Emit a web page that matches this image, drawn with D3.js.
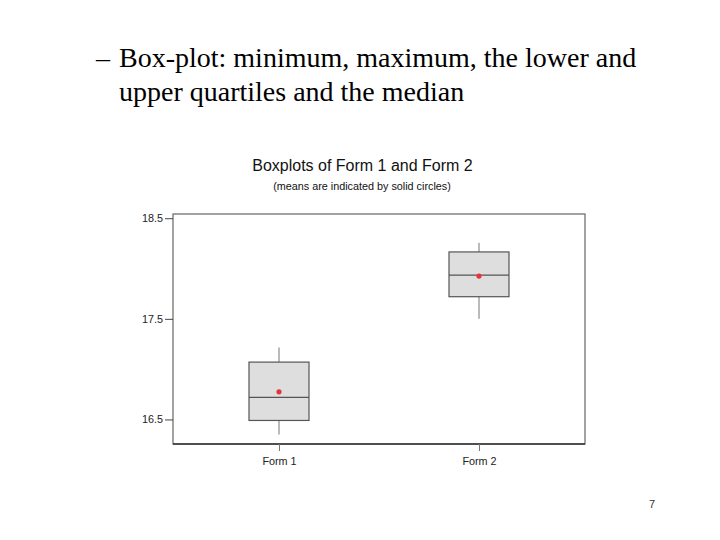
<!DOCTYPE html>
<html>
<head>
<meta charset="utf-8">
<script src="https://cdn.jsdelivr.net/npm/d3@7"></script>
<style>
  body { margin: 0; background: #fff; }
  .heading { font-family: "Liberation Serif", "Times New Roman", serif; font-size: 28px; fill: #000; }
  .graph-title { font-family: "Liberation Sans", Arial, sans-serif; fill: #111; }
  .tick text { font-family: "Liberation Sans", Arial, sans-serif; font-size: 10.8px; fill: #222; }
</style>
</head>
<body>
<svg id="boxplot-container"></svg>
<script>
// Data
const categories = ["Form 1", "Form 2"];
const whiskerLow = [16.35, 17.50];
const lowerQuartile = [16.49, 17.72];
const medians = [16.72, 17.935];
const upperQuartile = [17.07, 18.165];
const whiskerHigh = [17.215, 18.255];
const means = [16.775, 17.925];
const yTicks = [16.5, 17.5, 18.5];

const rows = categories.map((c, i) => ({
    name: c, lo: whiskerLow[i], q1: lowerQuartile[i], med: medians[i],
    q3: upperQuartile[i], hi: whiskerHigh[i], mean: means[i]
}));

// Sizes
const width = 720;
const height = 540;
const plotLeft = 173;
const plotRight = 585;
const plotTop = 214;
const plotBottom = 444;
const boxWidth = 60;

const svg = d3.select("#boxplot-container")
    .attr("width", width)
    .attr("height", height)
    .attr("viewBox", [0, 0, width, height]);

// Slide heading
const heading = svg.append("g").attr("class", "heading");
heading.append("text").attr("x", 96).attr("y", 67).text("\u2013");
heading.append("text").attr("x", 119).attr("y", 67).text("Box-plot: minimum, maximum, the lower and");
heading.append("text").attr("x", 119).attr("y", 101).text("upper quartiles and the median");

// Chart titles
svg.append("text")
    .attr("class", "graph-title")
    .attr("x", 362.5).attr("y", 171)
    .attr("text-anchor", "middle")
    .style("font-size", "16px")
    .text("Boxplots of Form 1 and Form 2");

svg.append("text")
    .attr("class", "graph-title")
    .attr("x", 362).attr("y", 189.5)
    .attr("text-anchor", "middle")
    .style("font-size", "10.8px")
    .text("(means are indicated by solid circles)");

// Scales
const x = d3.scalePoint()
    .domain(categories)
    .range([plotLeft, plotRight])
    .padding(0.53);

const y = d3.scaleLinear()
    .domain([16.256, 18.542])
    .range([plotBottom, plotTop]);

// Frame
svg.append("rect")
    .attr("x", plotLeft).attr("y", plotTop)
    .attr("width", plotRight - plotLeft).attr("height", plotBottom - plotTop)
    .attr("fill", "none")
    .attr("stroke", "#666")
    .attr("stroke-width", 1.2);

svg.append("line")
    .attr("x1", plotLeft).attr("x2", plotRight)
    .attr("y1", plotBottom).attr("y2", plotBottom)
    .attr("stroke", "#333")
    .attr("stroke-width", 1.5);

// Axes
svg.append("g")
    .attr("transform", `translate(${plotLeft},0)`)
    .call(d3.axisLeft(y).tickValues(yTicks).tickFormat(d3.format(".1f")).tickSize(8).tickPadding(2))
    .call(g => g.select(".domain").remove())
    .call(g => g.selectAll(".tick line").attr("stroke", "#444"));

svg.append("g")
    .attr("transform", `translate(0,${plotBottom})`)
    .call(d3.axisBottom(x).tickSize(7).tickPadding(6))
    .call(g => g.select(".domain").remove())
    .call(g => g.selectAll(".tick line").attr("stroke", "#777"));

// Boxes
const boxes = svg.append("g")
    .selectAll("g")
    .data(rows)
    .join("g");

boxes.append("line")
    .attr("x1", d => x(d.name)).attr("x2", d => x(d.name))
    .attr("y1", d => y(d.hi)).attr("y2", d => y(d.q3))
    .attr("stroke", "#777");

boxes.append("line")
    .attr("x1", d => x(d.name)).attr("x2", d => x(d.name))
    .attr("y1", d => y(d.q1)).attr("y2", d => y(d.lo))
    .attr("stroke", "#777");

boxes.append("rect")
    .attr("x", d => x(d.name) - boxWidth / 2)
    .attr("width", boxWidth)
    .attr("y", d => y(d.q3))
    .attr("height", d => y(d.q1) - y(d.q3))
    .attr("fill", "#dedede")
    .attr("stroke", "#555")
    .attr("stroke-width", 1.2);

boxes.append("line")
    .attr("x1", d => x(d.name) - boxWidth / 2).attr("x2", d => x(d.name) + boxWidth / 2)
    .attr("y1", d => y(d.med)).attr("y2", d => y(d.med))
    .attr("stroke", "#555")
    .attr("stroke-width", 1.2);

boxes.append("circle")
    .attr("cx", d => x(d.name))
    .attr("cy", d => y(d.mean))
    .attr("r", 2.6)
    .attr("fill", "#e8323c");

// Page number
svg.append("text")
    .attr("x", 652).attr("y", 507.5)
    .attr("text-anchor", "middle")
    .style("font-family", "Liberation Sans, Arial, sans-serif")
    .style("font-size", "11px")
    .attr("fill", "#333")
    .text("7");
</script>
</body>
</html>
